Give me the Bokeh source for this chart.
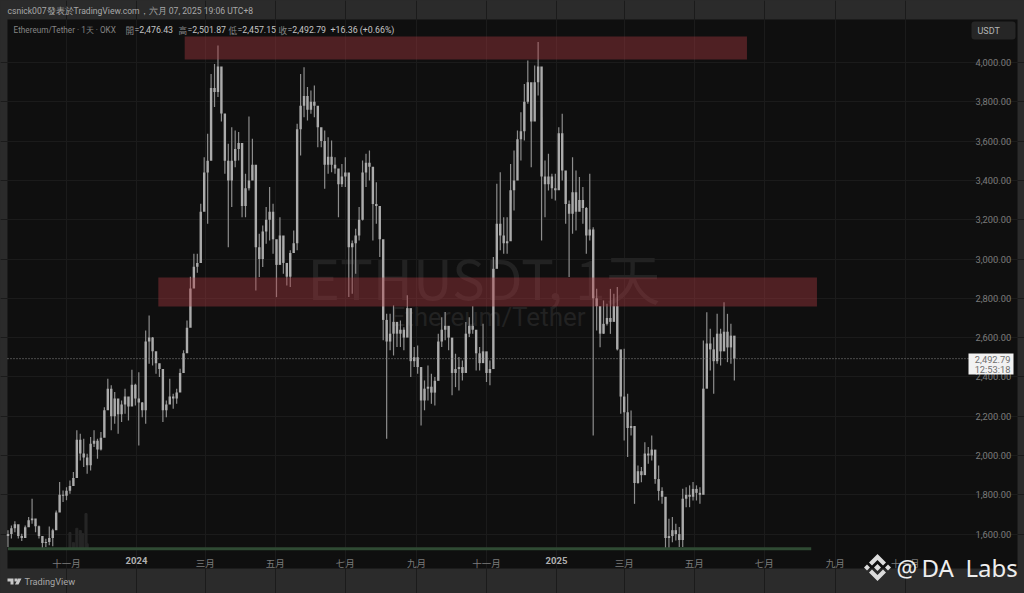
from bokeh.plotting import figure
from bokeh.embed import file_html
from bokeh.resources import INLINE
from bokeh.models import (BoxAnnotation, Label, PolyAnnotation, FixedTicker, NumeralTickFormatter,
                          Range1d, ColumnDataSource, LinearAxis, Grid)

# ---- data (one candle per three days, days counted from 2024-01-01) ----
first_day = -112
step_days = 3
first_open = 1590
highs = [1619,1644,1666,1627,1602,1644,1687,1780,1661,1644,
         1585,1576,1639,1627,1720,1865,1822,1839,1873,1916,
         2128,2111,2085,2009,2094,2128,2085,2119,2246,2390,
         2357,2323,2255,2280,2340,2297,2436,2365,2424,2272,
         2636,2712,2603,2509,2467,2331,2280,2390,2314,2340,
         2441,2535,2687,2910,3027,3027,3281,3518,3637,3942,
         3993,4087,3942,3688,3586,3671,3654,3646,3451,3434,
         3725,3612,3460,3128,3171,3264,3366,3281,3027,3213,
         3060,2959,3044,3145,3688,3942,3976,3875,3858,3883,
         3722,3654,3654,3620,3603,3518,3434,3484,3518,3417,
         3094,3154,3264,3501,3535,3552,3332,3391,3247,3044,
         2721,2721,2764,2679,2687,2653,2815,2662,2552,2560,
         2450,2382,2458,2416,2399,2620,2704,2730,2653,2552,
         2518,2501,2484,2679,2704,2759,2569,2552,2670,2518,
         2484,3010,3383,3442,3213,3213,3484,3552,3654,3747,
         3891,4010,3891,3985,4104,3722,3501,3535,3434,3434,
         3671,3739,3417,3298,3518,3451,3417,3366,3264,3434,
         3162,2848,2696,2789,2772,2848,2823,2857,2517,2543,
         2314,2229,1958,1949,1941,2068,2043,2102,1975,1949,
         1839,1763,1678,1687,1653,1636,1831,1839,1848,1865,
         1848,1839,2585,2729,2645,2602,2721,2645,2780,2721,2670,2534]
lows = [1534,1577,1610,1577,1565,1585,1636,1653,1610,1577,
        1525,1534,1543,1538,1627,1746,1763,1772,1805,1856,
        1958,1975,1941,1907,1924,2043,1984,2026,2111,2272,
        2128,2162,2111,2170,2212,2178,2272,2255,2051,2195,
        2162,2467,2458,2416,2399,2170,2195,2263,2238,2263,
        2348,2450,2543,2740,2904,2930,3027,3298,3179,3722,
        3773,3824,3700,3434,3060,3264,3467,3501,3213,3213,
        3349,3417,2840,2908,2959,3077,3094,3027,2806,3010,
        2925,2865,2857,3044,3044,3527,3722,3705,3739,3722,
        3569,3569,3357,3434,3442,3434,3213,3366,3366,2806,
        2823,2925,3094,3196,3366,3400,3094,3179,3010,2586,
        2085,2535,2509,2552,2552,2535,2653,2399,2450,2416,
        2153,2230,2280,2263,2255,2433,2552,2586,2535,2306,
        2348,2331,2382,2535,2603,2620,2433,2433,2484,2374,
        2357,2467,3060,3044,3027,3027,3281,3247,3518,3501,
        3603,3790,3467,3824,3832,3094,3213,3349,3306,3298,
        3451,3400,3179,2908,3128,3145,3264,3179,3027,3094,
        2102,2636,2551,2619,2662,2619,2687,2534,2212,2076,
        1992,2102,1754,1856,1864,1924,1958,1975,1856,1771,
        1754,1525,1525,1559,1568,1534,1534,1737,1737,1771,
        1771,1754,1856,2450,2433,2314,2467,2458,2602,2475,2467,2382]
closes = [1600,1630,1650,1590,1580,1635,1670,1680,1640,1590,
          1555,1560,1580,1620,1710,1800,1795,1820,1845,1885,
          2080,2010,1990,1950,2060,2075,2030,2090,2230,2340,
          2200,2290,2210,2260,2300,2250,2360,2290,2270,2230,
          2580,2600,2530,2470,2440,2230,2260,2300,2290,2320,
          2420,2520,2650,2850,2960,2980,3240,3440,3500,3870,
          3850,3980,3740,3500,3400,3500,3560,3590,3270,3360,
          3400,3480,3060,3000,3140,3200,3240,3100,2970,3120,
          2980,2910,3030,3080,3660,3780,3830,3760,3800,3780,
          3670,3600,3480,3520,3480,3460,3380,3420,3440,3060,
          3080,3120,3200,3440,3490,3470,3280,3270,3100,2690,
          2580,2620,2680,2620,2640,2600,2750,2480,2500,2450,
          2280,2340,2350,2320,2380,2580,2640,2660,2600,2420,
          2440,2450,2420,2620,2660,2640,2520,2470,2530,2420,
          2440,2950,3180,3120,3080,3090,3350,3400,3610,3650,
          3800,3900,3700,3900,3980,3420,3380,3420,3360,3350,
          3640,3450,3280,3230,3340,3240,3300,3260,3120,3150,
          2800,2760,2620,2670,2700,2680,2760,2540,2300,2220,
          2140,2150,1860,1920,1900,2010,2000,2030,1880,1820,
          1790,1580,1590,1620,1600,1570,1780,1800,1790,1830,
          1810,1800,2340,2570,2540,2480,2620,2530,2630,2550,2610,2492.79]
last_price = 2492.79
volume_days = [-58,-55,-52,-49,-47,-44,-43]
volume_values = [32,13,40,36,30,68,11]
zone_left = [42, 19]
zone_right = [532, 593]
zone_low = [4015, 2758]
zone_high = [4132, 2906]
base_line_day_start = -112
base_line_day_end = 588
base_line_price = 1525
tick_days = [-61,0,60,121,182,244,305,366,425,486,547,609,670]
tick_names = ["十一月","","三月","五月","七月","九月","十一月","","三月","五月","七月","九月","十一月"]
year_days = [0, 366]
year_names = ["2024", "2025"]
price_ticks = [1600,1800,2000,2200,2400,2600,2800,3000,3200,3400,3600,3800,4000]

PAGE = "#2b2b2b"; PANEL = "#0f0f0f"
LATIN = "Roboto"; CJK = "Noto Sans CJK TC"

days = [first_day + step_days*i for i in range(len(closes))]
opens = [first_open] + closes[:-1]
body_low = [min(a, b) for a, b in zip(opens, closes)]
body_high = [max(a, b) for a, b in zip(opens, closes)]
src = ColumnDataSource(dict(day=days, low=lows, high=highs, blow=body_low, bhigh=body_high))

# the frame fills the whole 1024x593 canvas, so that every text can be placed on it
PXD = 1.1475            # pixels per day
X0 = 136                # pixel of day 0
PXP = 0.1965            # pixels per price unit
Y4000 = 62              # pixel of price 4000
def day_at(px): return (px - X0) / PXD
def price_at(py): return 4000 - (py - Y4000) / PXP

p = figure(width=1024, height=593, output_backend="svg", toolbar_location=None,
           x_range=Range1d(day_at(0), day_at(1024)), y_range=Range1d(price_at(593), price_at(0)),
           min_border_left=0, min_border_top=0, min_border_right=0, min_border_bottom=0,
           background_fill_color=PAGE, border_fill_color=PAGE, outline_line_color=None,
           x_axis_location=None, y_axis_location=None)
p.extra_y_ranges = {"vol": Range1d(-83, 1036)}
for g in p.grid:
    g.visible = False

def add_text(text, x, y, color, size, font=LATIN, align="left", style="normal", level="annotation", x_units="canvas"):
    p.add_layout(Label(x=x, y=y, x_units=x_units, y_units="canvas",
                       text=text, text_color=color, text_font_size=f"{size}px", text_font=font,
                       text_align=align, text_baseline="middle", text_font_style=style, level=level))

def add_box(l, t, r, b, color, level, **kw):
    p.add_layout(BoxAnnotation(left=l, right=r, top=t, bottom=b, left_units="canvas", right_units="canvas",
                               top_units="canvas", bottom_units="canvas", fill_color=color, fill_alpha=1,
                               line_color=None, level=level, **kw))

# dark panel behind everything
add_box(7, 19, 1017, 568, PANEL, "image")

# axes, fixed at the edges of the plot area
ax = LinearAxis(fixed_location=price_at(549))
ax.ticker = FixedTicker(ticks=tick_days)
ax.major_label_overrides = dict(zip(tick_days, tick_names))
ax.major_label_text_color = "#7c7c7c"; ax.major_label_text_font = CJK
ax.major_label_text_font_size = "9.5px"; ax.major_label_standoff = 6
ax.major_tick_out = 0; ax.major_tick_in = 0
ax.axis_line_color = None; ax.major_tick_line_color = None; ax.minor_tick_line_color = None
p.add_layout(ax, "below")
ay = LinearAxis(fixed_location=day_at(968))
ay.ticker = FixedTicker(ticks=price_ticks)
ay.formatter = NumeralTickFormatter(format="0,0.00")
ay.major_label_text_color = "#7c7c7c"; ay.major_label_text_font = LATIN
ay.major_label_text_font_size = "9.3px"; ay.major_label_standoff = 7
ay.major_tick_out = 0; ay.major_tick_in = 0
ay.axis_line_color = None; ay.major_tick_line_color = None; ay.minor_tick_line_color = None
p.add_layout(ay, "right")

xg = Grid(dimension=0, ticker=FixedTicker(ticks=tick_days), grid_line_color="#1b1b1b",
          bounds=(price_at(549), price_at(19)))
yg = Grid(dimension=1, ticker=FixedTicker(ticks=price_ticks), grid_line_color="#1b1b1b",
          bounds=(day_at(7), day_at(968)))
p.add_layout(xg); p.add_layout(yg)

# watermark
add_text("ETHUSDT, 1天", 307, 275, "#222222", 55, font=CJK, level="underlay")
add_text("Ethereum/Tether", 390, 316, "#222222", 26, font=LATIN, level="underlay")

# volume
p.vbar(x=volume_days, top=volume_values, bottom=0, width=1.8, color="#262626", y_range_name="vol")

# candles
p.segment(x0="day", x1="day", y0="low", y1="high", source=src, line_color="#8d8d8d", line_width=1.2)
p.vbar(x="day", bottom="blow", top="bhigh", width=2.1, source=src, fill_color="#ababab", line_color=None)

# zones
p.quad(left=zone_left, right=zone_right, bottom=zone_low, top=zone_high,
       fill_color="#af3941", fill_alpha=0.4, line_color=None)

# base line
p.segment(x0=[base_line_day_start], x1=[base_line_day_end], y0=[base_line_price], y1=[base_line_price],
          line_color="#2f4a33", line_width=3)

# last price
p.segment(x0=[day_at(7)], x1=[day_at(968)], y0=[last_price], y1=[last_price],
          line_color="#8a8a8a", line_dash="1 2", line_width=1)

# years (bold)
for d, name in zip(year_days, year_names):
    add_text(name, d, 560, "#b0b0b0", 9.5, align="center", style="bold", x_units="data")

# price tag
add_box(968, 353, 1013, 374, "#f2f2f2", "overlay")
add_text("2,492.79", 1010, 358.5, "#6e6e6e", 9.3, align="right", level="overlay")
add_text("12:53:18", 1010, 368.5, "#6e6e6e", 9.3, align="right", level="overlay")

# currency box
add_box(971, 21, 1015, 39, "#262626", "overlay", border_radius=3)
add_text("USDT", 977, 30, "#b5b5b5", 9, level="overlay")

# header
add_text("csnick007發表於TradingView.com，六月 07, 2025 19:06 UTC+8", 7, 10.7, "#a8a8a8", 8.6)
GREY = "#858585"; BRIGHT = "#c4c4c4"
add_text("Ethereum/Tether · 1天 · OKX", 13, 29, GREY, 8.2)
for label, lx, val, vx in [("開", 125, "=2,476.43", 134), ("高", 178, "=2,501.87", 187),
                           ("低", 228, "=2,457.15", 237), ("收", 278, "=2,492.79", 287)]:
    add_text(label, lx, 29, GREY, 8.6, font=CJK)
    add_text(val, vx, 29, BRIGHT, 8.8)
add_text("+16.36 (+0.66%)", 330, 29, BRIGHT, 8.8)

# footer
def poly(points, color):
    p.add_layout(PolyAnnotation(xs=[q[0] for q in points], ys=[q[1] for q in points], xs_units="canvas", ys_units="canvas",
                                fill_color=color, fill_alpha=1, line_color=None, level="overlay"))

poly([(7,578),(13,578),(13,584),(10,584),(10,581),(7,581)], "#c8c8c8")
poly([(14,578),(17,578),(17,581),(14,581)], "#c8c8c8")
poly([(17.5,578),(21,578),(18,584),(14.5,584)], "#c8c8c8")
add_text("TradingView", 24, 581, "#a8a8a8", 9.2)

cx, cy = 877, 567
W = "#dcdcdc"
poly([(cx,cy-13.5),(cx+8.5,cy-5),(cx+5.5,cy-2),(cx,cy-7.5),(cx-5.5,cy-2),(cx-8.5,cy-5)], W)
poly([(cx,cy+13.5),(cx+8.5,cy+5),(cx+5.5,cy+2),(cx,cy+7.5),(cx-5.5,cy+2),(cx-8.5,cy+5)], W)
poly([(cx,cy-3.5),(cx+3.5,cy),(cx,cy+3.5),(cx-3.5,cy)], W)
poly([(cx-10.5,cy-3),(cx-7.5,cy),(cx-10.5,cy+3),(cx-13.5,cy)], W)
poly([(cx+10.5,cy-3),(cx+13.5,cy),(cx+10.5,cy+3),(cx+7.5,cy)], W)
add_text("@", 896, 567, "#eeeeee", 23, font="Noto Sans", level="overlay")
add_text("DA", 921, 567, "#eeeeee", 24, font="Noto Sans", level="overlay")
add_text("Labs", 965, 567, "#eeeeee", 24, font="Noto Sans", level="overlay")

open("out.html", "w").write(file_html(p, INLINE).replace("</head>", f"<style>html,body{{background:{PAGE};margin:0;overflow:hidden}}</style></head>"))
